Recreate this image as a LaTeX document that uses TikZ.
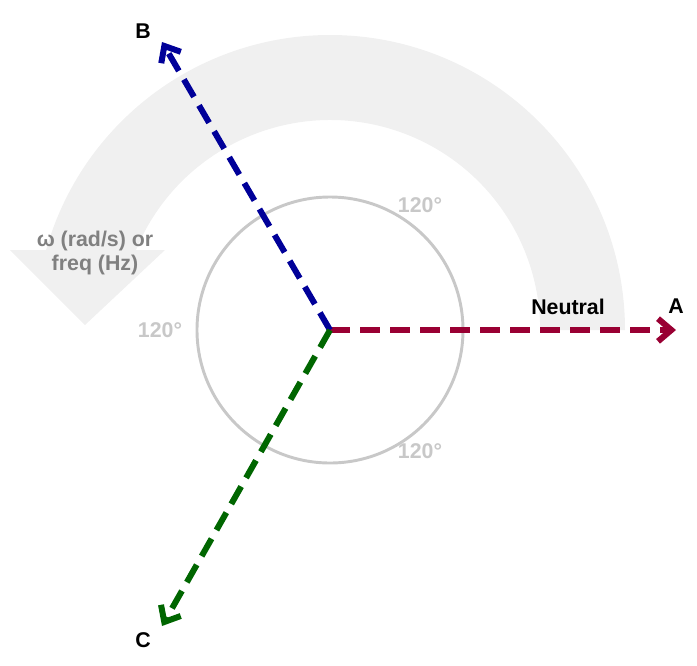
\documentclass[tikz,border=0pt]{standalone}
\usepackage{fontspec}
\setmainfont{Liberation Sans}
\usetikzlibrary{arrows.meta}
\definecolor{cA}{HTML}{990033}
\definecolor{cB}{HTML}{000099}
\definecolor{cC}{HTML}{006600}
\definecolor{band}{HTML}{F0F0F0}
\definecolor{lbl}{HTML}{C8C8C8}
\definecolor{wlbl}{HTML}{808080}
\begin{document}
\begin{tikzpicture}[x=0.75pt,y=-0.75pt,
  phasor/.style={line width=4.5pt,dash pattern=on 15pt off 7.5pt,-{Straight Barb[length=10pt,width=17pt,line width=4.5pt]}},
  deg/.style={text=lbl,font=\bfseries\fontsize{16}{18}\selectfont},
  lab/.style={font=\bfseries\fontsize{16}{18}\selectfont}]
\useasboundingbox (0,0) rectangle (697,665);
% rotation band
\fill[band] (625,330) arc[start angle=0,end angle=-164.3,radius=295]
  -- (10,250) -- (85,325) -- (165,250) -- (136,250)
  arc[start angle=-157.6,end angle=0,radius=210] -- cycle;
\coordinate (O) at (330,330);
\draw[lbl,line width=2.2pt] (O) circle[radius=133];
\coordinate (A) at (676,330);
\coordinate (B) at (162,42);
\coordinate (C) at (162,626);
\draw[phasor,cA] (O) -- (A);
\draw[phasor,cB] (O) -- (B);
\draw[phasor,cC] (O) -- (C);
\node[deg] (d1) at (420,205) {120°};
\node[deg] (d2) at (160,330) {120°};
\node[deg] (d3) at (420,451) {120°};
\node[lab,text=wlbl,align=center] (w) at (95,253) {ω (rad/s) or\\freq (Hz)};
\node[lab] (n) at (568,307) {Neutral};
\node[lab] (la) at (676,306) {A};
\node[lab] (lb) at (143,31) {B};
\node[lab] (lc) at (143,640) {C};
\end{tikzpicture}
\end{document}
